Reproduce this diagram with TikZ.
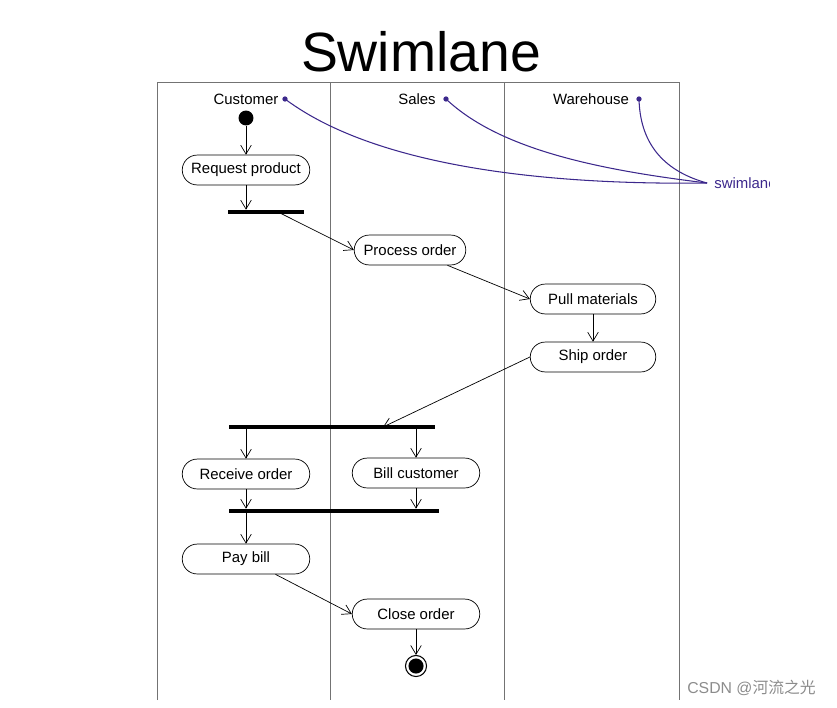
\documentclass[tikz,border=0pt]{standalone}
\usepackage{fontspec}
\setmainfont{Liberation Sans}
\usetikzlibrary{arrows.meta,calc}

\begin{document}
\begin{tikzpicture}[x=0.02cm, y=-0.02cm]
\tikzset{>={Straight Barb[length=5pt,width=6pt]}}
\tikzset{lane/.style={draw=black!55, line width=0.5pt}}
\tikzset{act/.style={draw, rounded corners=8.5pt, minimum width=128*0.567pt, minimum height=17pt, inner sep=1pt, font=\fontsize{8.5}{9}\selectfont}}
\tikzset{bar/.style={fill=black, inner sep=0pt, minimum height=2.2pt}}
\tikzset{note/.style={draw=none, text=black, font=\fontsize{8.5}{9}\selectfont}}
\definecolor{notecol}{RGB}{60,40,140}
\useasboundingbox (0,0) rectangle (837,707);

% title and lanes
\node[font=\fontsize{31.5}{34}\selectfont] (title) at (421,52) {Swimlane};
\draw[lane] (157,700) -- (157,82) -- (679,82) -- (679,700);
\draw[lane] (330,82) -- (330,700);
\draw[lane] (504,82) -- (504,700);

\node[note] (cust) at (246,99) {Customer};
\node[note] (sales) at (417,99) {Sales};
\node[note] (ware) at (591,99) {Warehouse};
\fill[notecol] (285,99) circle (1.5pt) coordinate (dcust);
\fill[notecol] (446,99) circle (1.5pt) coordinate (dsales);
\fill[notecol] (639,99) circle (1.5pt) coordinate (dware);
\coordinate (sw) at (707,183);
\node[note, text=notecol, anchor=west, inner sep=0pt] (swl) at (714,183) {swimlane};
\fill[white] (770,170) rectangle (800,196);
\draw[notecol, line width=0.6pt] (dcust) .. controls (380,170) and (560,185) .. (sw);
\draw[notecol, line width=0.6pt] (dsales) .. controls (500,150) and (600,170) .. (sw);
\draw[notecol, line width=0.6pt] (dware) .. controls (640,140) and (660,170) .. (sw);

% activities
\node[circle, fill=black, inner sep=0pt, minimum size=8.5pt] (start) at (246,118) {};
\node[act] (req) at (246,170) {Request product};
\node[bar, minimum width=77*0.567pt] (bar1) at (266,212) {};
\node[act, minimum width=112*0.567pt] (proc) at (410,250) {Process order};
\node[act, minimum width=126*0.567pt] (pull) at (593,299) {Pull materials};
\node[act, minimum width=126*0.567pt] (ship) at (593,357) {Ship order};
\node[bar, minimum width=207*0.567pt] (bar2) at (332,427) {};
\node[act] (recv) at (246,474) {Receive order};
\node[act] (bill) at (416,473) {Bill customer};
\node[bar, minimum width=210*0.567pt] (bar3) at (334,511) {};
\node[act] (pay) at (246,559) {Pay bill};
\node[act] (close) at (416,614) {Close order};
\node[circle, draw, line width=0.6pt, inner sep=0pt, minimum size=12pt] (stop) at (416,666) {};
\fill (stop) circle (4.3pt);

% flows
\draw[->] (start) -- (req);
\draw[->] (req) -- (req |- bar1.north);
\draw[->] (278,212) coordinate (b1) -- (proc.west);
\draw[->] (proc) -- (pull.west);
\draw[->] (pull) -- (ship);
\draw[->] (ship.west) -- (383,427) coordinate (b2);
\draw[->] (recv |- bar2.south) -- (recv);
\draw[->] (bill |- bar2.south) -- (bill);
\draw[->] (recv) -- (recv |- bar3.north);
\draw[->] (bill) -- (bill |- bar3.north);
\draw[->] (pay |- bar3.south) -- (pay);
\draw[->] (pay) -- (close.west);
\draw[->] (close) -- (stop);

\node[text=black!45, font=\fontsize{9}{10}\selectfont, anchor=east] (mark) at (822,688) {CSDN @\fontspec{Noto Sans CJK SC}河流之光};
\end{tikzpicture}
\end{document}
